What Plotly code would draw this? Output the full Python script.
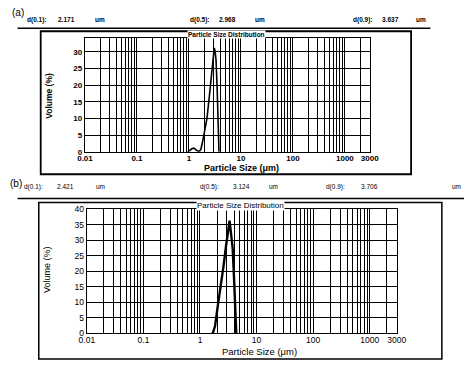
import numpy as np
import plotly.graph_objects as go

W, H = 474, 366

# ---------------- data ----------------
size_a = [0.95, 1.05, 1.15, 1.25, 1.35, 1.45, 1.6, 1.7, 1.8, 1.92, 2.05, 2.22, 2.48, 2.74, 2.94, 3.07, 3.2, 3.32, 3.49, 3.62, 3.7, 3.78]
vol_a = [0, 0.5, 1.0, 1.1, 0.8, 0.3, 0.2, 0.8, 2.5, 5, 7.5, 10, 17, 24, 29.5, 31.2, 30, 27.5, 19, 9, 3, 0]

size_b = [1.68, 1.85, 1.98, 2.2, 2.4, 2.62, 2.85, 3.05, 3.24, 3.33, 3.45, 3.62, 3.78, 3.97, 4.16, 4.3, 4.38]
vol_b = [0, 2.4, 6.5, 12, 17, 22, 27.4, 32, 36, 36.3, 34, 31, 27.4, 19, 11.8, 3, 0]

x_labels = {0.01: "0.01", 0.1: "0.1", 1: "1", 10: "10", 100: "100", 1000: "1000", 3000: "3000"}
y_ticks_a = [0, 5, 10, 15, 20, 25, 30]
y_ticks_b = [0, 5, 10, 15, 20, 25, 30, 35, 40]

stats_a = [("d(0.1):", "2.171"), ("d(0.5):", "2.968"), ("d(0.9):", "3.637")]
stats_b = [("d(0.1):", "2.421"), ("d(0.5):", "3.124"), ("d(0.9):", "3.706")]

# grid positions (log decades 1..9) from 0.01 to 3000
grid_x = []
for e in range(-2, 4):
    for m in range(1, 10):
        v = m * 10.0 ** e
        if v <= 3000.0001:
            grid_x.append(round(v, 6))
grid_text = []
for v in grid_x:
    lab = ""
    for k, t in x_labels.items():
        if abs(v - k) / k < 1e-6:
            lab = t
    grid_text.append(lab)

FONT = "Arial, Liberation Sans, sans-serif"


def px(x):
    return x / W


def py(y):
    return (H - y) / H


fig = go.Figure()
fig.add_trace(go.Scatter(x=size_a, y=vol_a, mode="lines", line=dict(color="black", width=1.6),
                         xaxis="x", yaxis="y", showlegend=False))
fig.add_trace(go.Scatter(x=size_b, y=vol_b, mode="lines", line=dict(color="black", width=2.4),
                         xaxis="x2", yaxis="y2", showlegend=False))

xr = [-2, np.log10(3000)]

common_x = dict(type="log", range=xr, tickvals=grid_x, ticktext=grid_text, ticks="",
                showgrid=True, gridcolor="black", showline=True, linecolor="black",
                mirror=True, zeroline=False, ticklabelstandoff=-2)
common_y = dict(ticks="", showgrid=True, gridcolor="black", showline=True, linecolor="black",
                mirror=True, zeroline=False)

fig.update_layout(
    width=W, height=H, margin=dict(l=0, r=0, t=0, b=0),
    paper_bgcolor="white", plot_bgcolor="white",
    xaxis=dict(domain=[px(80), px(376)], anchor="y", gridwidth=1, linewidth=1.2,
               tickfont=dict(family=FONT, size=8, color="black", weight="bold"), **common_x),
    yaxis=dict(domain=[py(151), py(33.5)], anchor="x", range=[0, 34.3], tickvals=y_ticks_a,
               gridwidth=1, linewidth=1.2,
               tickfont=dict(family=FONT, size=8, color="black", weight="bold"), **common_y),
    xaxis2=dict(domain=[px(82), px(404)], anchor="y2", gridwidth=1.4, linewidth=1.4,
                tickfont=dict(family=FONT, size=8.5, color="black"), **common_x),
    yaxis2=dict(domain=[py(337.5), py(210)], anchor="x2", range=[0, 40], tickvals=y_ticks_b,
                gridwidth=1.4, linewidth=1.4,
                tickfont=dict(family=FONT, size=8.5, color="black"), **common_y),
)

shapes = []
# header lines
shapes.append(dict(type="line", xref="paper", yref="paper", x0=px(10), x1=px(439), y0=py(24), y1=py(24),
                   line=dict(color="black", width=1.5)))
shapes.append(dict(type="line", xref="paper", yref="paper", x0=px(10), x1=px(474), y0=py(199), y1=py(199),
                   line=dict(color="black", width=1.5)))
# outer boxes
shapes.append(dict(type="rect", xref="paper", yref="paper", x0=px(34), x1=px(419), y0=py(174), y1=py(27),
                   line=dict(color="black", width=1.8)))
shapes.append(dict(type="rect", xref="paper", yref="paper", x0=px(32), x1=px(451), y0=py(364), y1=py(203),
                   line=dict(color="black", width=1.5)))
fig.update_layout(shapes=shapes)

ann = []


def text(x, y, s, size=7, bold=False, anchor="left", angle=0, bg=None):
    d = dict(x=px(x), y=py(y), xref="paper", yref="paper", text=s, showarrow=False,
             xanchor=anchor, yanchor="middle", textangle=angle,
             font=dict(family=FONT, size=size, color="black", weight="bold" if bold else "normal"))
    if bg:
        d["bgcolor"] = bg
        d["borderpad"] = 0
    ann.append(d)


# panel labels
text(2, 8, "(a)", size=10)
text(0, 184, "(b)", size=10)

# header stats (a)
xa = [(18, 50, 88), (187, 217, 255), (357, 387, 422)]
for (lab, val), (x1, x2, x3) in zip(stats_a, xa):
    text(x1, 15, lab, size=6.5, bold=True)
    text(x2, 15, val, size=6.5, bold=True)
    text(x3, 15, "um", size=6.5, bold=True)
# header stats (b)
xb = [(15, 49, 89), (197, 232, 269), (328, 365, 473)]
for i, ((lab, val), (x1, x2, x3)) in enumerate(zip(stats_b, xb)):
    text(x1, 187, lab, size=6.5)
    text(x2, 187, val, size=6.5)
    text(x3, 187, "um", size=6.5, anchor="right" if i == 2 else "left")

# titles
text(227, 30.5, "Particle Size Distribution", size=6.5, bold=True, anchor="center", bg="white")
text(242, 206, "Particle Size Distribution", size=8, anchor="center", bg="white")

# axis titles
text(243, 168, "Particle Size (μm)", size=9, bold=True, anchor="center")
text(261, 356.5, "Particle Size (μm)", size=9.5, anchor="center")
text(43, 93, "Volume (%)", size=8.5, bold=True, anchor="center", angle=-90)
text(40, 272, "Volume (%)", size=9, anchor="center", angle=-90)

fig.update_layout(annotations=ann)

fig.write_html("out.html", config={"displayModeBar": False},
               post_script="document.body.style.margin='0';document.body.style.overflow='hidden';")
